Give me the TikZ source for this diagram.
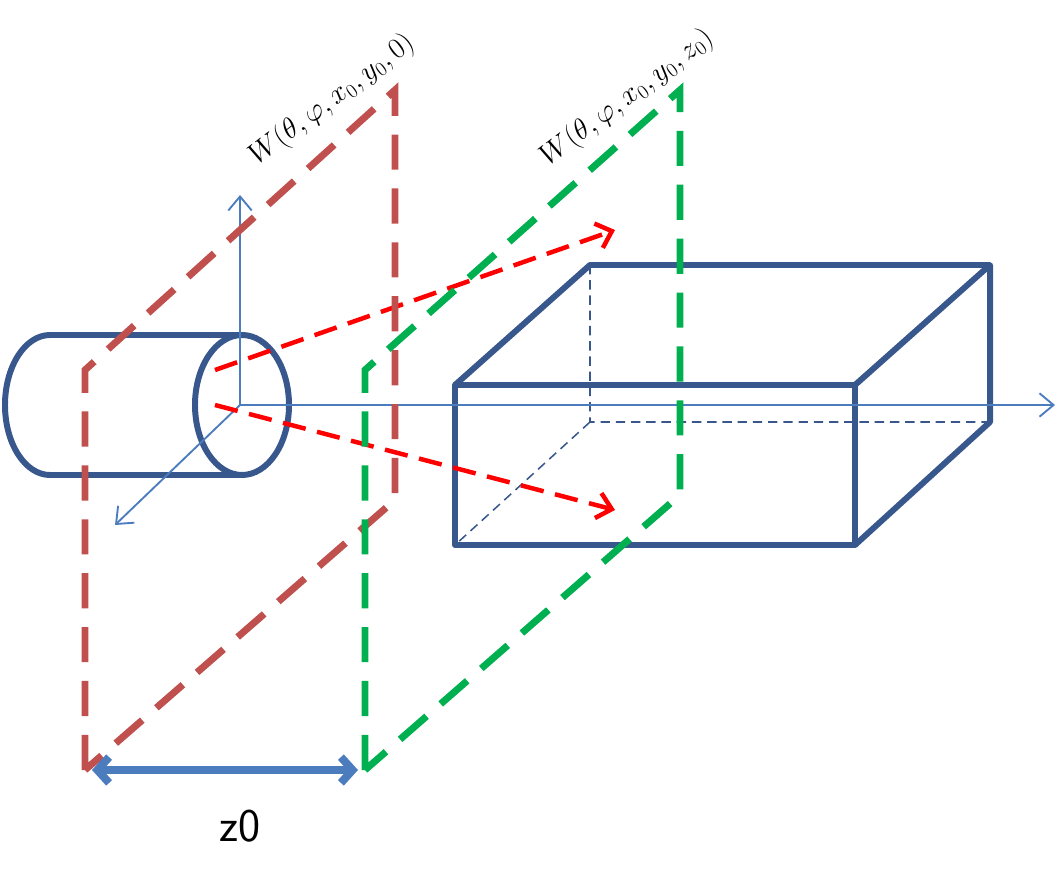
\documentclass[tikz,border=0pt]{standalone}
\usetikzlibrary{arrows.meta}
\begin{document}
\begin{tikzpicture}[x=0.03cm,y=-0.03cm,
  dk/.style={draw=dkblue,line width=6*0.85pt},
  ax/.style={draw=axblue,line width=1.6pt,-{Straight Barb[length=12pt,width=20pt]}},
  hid/.style={draw=dkblue,line width=1.3pt,dash pattern=on 8pt off 5pt},
  pl/.style={line width=7*0.85pt,dash pattern=on 30pt off 16pt},
  ra/.style={draw=red,line width=4.5*0.85pt,dash pattern=on 20pt off 10pt,-{Straight Barb[length=12pt,width=22pt]}}]
\definecolor{dkblue}{RGB}{56,87,140}
\definecolor{axblue}{RGB}{75,125,190}
\definecolor{rplane}{RGB}{192,80,77}
\definecolor{gplane}{RGB}{0,176,80}
\useasboundingbox (0,0) rectangle (1064,876);
% box
\coordinate (f1) at (455,385); \coordinate (f2) at (855,385);
\coordinate (f3) at (855,545); \coordinate (f4) at (455,545);
\coordinate (b1) at (590,265); \coordinate (b2) at (990,265);
\coordinate (b3) at (990,422); \coordinate (b4) at (590,422);
\draw[hid] (b1)--(b4)--(b3) (b4)--(f4);
\draw[dk,line join=round] (f1) rectangle (f3);
\draw[dk,line join=round] (f1)--(b1)--(b2)--(f2) (b2)--(b3)--(f3);
% cylinder
\coordinate (o) at (240,405);
\draw[dk] (242,335)--(50,335) arc[start angle=-90,end angle=-270,x radius=45,y radius=70]--(242,475);
\draw[dk] (242,405) ellipse[x radius=47,y radius=70];
% axes
\coordinate (ay) at (240,195); \coordinate (ax) at (1055,405); \coordinate (az) at (115,525);
\draw[ax] (o)--(ay); \draw[ax] (o)--(ax); \draw[ax] (o)--(az);
% red arrows
\coordinate (r1) at (215,370); \coordinate (r2) at (615,230);
\coordinate (r3) at (215,405); \coordinate (r4) at (615,510);
\draw[ra] (r1)--(r2); \draw[ra] (r3)--(r4);
% planes
\coordinate (p1) at (85,770); \coordinate (p2) at (85,370); \coordinate (p3) at (395,90); \coordinate (p4) at (395,500);
\draw[pl,draw=rplane] (p1)--(p2)--(p3)--(p4)--cycle;
\coordinate (q1) at (365,770); \coordinate (q2) at (365,370); \coordinate (q3) at (680,90); \coordinate (q4) at (680,495);
\draw[pl,draw=gplane] (q1)--(q2)--(q3)--(q4)--cycle;
% labels
\node[rotate=37,font=\fontsize{23}{25}\selectfont] (l1) at (332,100) {$W(\theta,\varphi,x_0,y_0,0)$};
\node[rotate=37,font=\fontsize{23}{25}\selectfont] (l2) at (627,98) {$W(\theta,\varphi,x_0,y_0,z_0)$};
% z0
\draw[draw=axblue,line width=8*0.85pt,{Straight Barb[length=10pt,width=22pt]}-{Straight Barb[length=10pt,width=22pt]}] (92,770)--(358,770);
\node[font=\fontsize{40}{44}\selectfont\sffamily] (z) at (240,826) {z0};
\end{tikzpicture}
\end{document}
